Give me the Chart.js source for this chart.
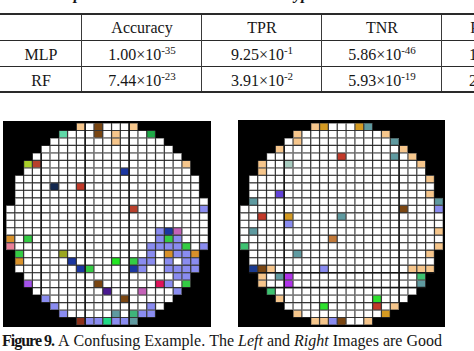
<!DOCTYPE html>
<html><head><meta charset="utf-8">
<script src="https://cdn.jsdelivr.net/npm/chart.js@4/dist/chart.umd.min.js"></script>
<style>
html,body{margin:0;padding:0;background:#fff;width:474px;height:351px;overflow:hidden;position:relative;font-family:"Liberation Serif","Times New Roman",serif;color:#161616}
.t{position:absolute;white-space:nowrap;font-size:16px;line-height:16px}
.c{text-align:center;width:140px}
.hl{position:absolute;left:0;width:474px;background:#2a2a2a}
.vl{position:absolute;width:1.3px;background:#3a3a3a;top:15px;height:76px}
canvas{position:absolute;background:#000}
sup{font-size:11px;line-height:0;vertical-align:0;position:relative;top:-6px}
</style></head><body>
<div id="page"></div>
<canvas id="left" width="208" height="206" style="left:3px;top:121px;width:208px;height:206px"></canvas>
<canvas id="right" width="207" height="207" style="left:238px;top:120px;width:207px;height:207px"></canvas>
<script>
// ---------- table data ----------
const tableTitle = "Table 4. p-Values about t-Test with Null Hypothesis and Alternative Hypothesis";
const metricNames = ["Accuracy", "TPR", "TNR", "Precision"];
const modelNames = ["MLP", "RF"];
const mlpMantissa = [1.00, 9.25, 5.86, 1.52];
const mlpExponent = [-35, -1, -46, -4];
const rfMantissa = [7.44, 3.91, 5.93, 2.07];
const rfExponent = [-23, -2, -19, -3];
const captionParts = [["Figure 9.", "b"], [" A Confusing Example. The ", ""], ["Left", "i"], [" and ", ""], ["Right", "i"], [" Images are Good", ""]];

// ---------- wafer data ----------
const rowStart = [8,6,5,4,3,2,2,1,1,1,1,0,0,0,0,0,0,1,1,1,2,2,3,4,5,6,8];
const rowEnd   = [14,16,17,18,19,20,20,21,21,21,22,22,22,22,22,22,22,21,21,21,20,20,19,18,17,16,14];
const nCols = 23, nRows = 27;
const palette = {
  lo:"#f6c68c", br:"#7a4612", tg:"#5fd9a8", gn:"#1faa48", yg:"#a9cf2a", rb:"#b8402c",
  db:"#1b36a0", nv:"#13284f", rd:"#c23a2a", bp:"#8a8cf0", or:"#d8912a", pk:"#ea8098",
  g2:"#34cc44", ol:"#9ba622", g3:"#22e622", pu:"#a452ea", cr:"#e0125a", dp:"#4a1a90",
  mg:"#c462b8", tl:"#5f9aa0", sg:"#3fb47a", rb2:"#8c3019", mt:"#20da86",
  gd:"#d49a22", lt:"#a8ccc0", pb:"#6242d8", bo:"#c27a3a", gr:"#3ec271", nb:"#1a3a8f",
  vi:"#b032ea", lg:"#2ee02e"
};
const leftCells = [
  [0,8,"lo"],[0,10,"br"],[0,14,"lo"],
  [1,6,"tg"],[1,10,"br"],[1,12,"lo"],[1,16,"gn"],
  [2,12,"lo"],
  [5,2,"yg"],[5,3,"rb"],[5,20,"lo"],
  [6,13,"db"],
  [8,5,"nv"],[8,8,"rd"],
  [11,14,"rb"],[11,22,"bp"],
  [14,17,"bp"],[14,18,"db"],[14,19,"mg"],
  [15,0,"or"],[15,2,"g2"],[15,17,"bp"],[15,18,"g2"],[15,19,"bp"],
  [16,0,"pk"],[16,16,"bp"],[16,17,"bp"],[16,18,"bp"],[16,19,"bp"],[16,20,"g2"],[16,22,"bp"],
  [17,1,"g2"],[17,6,"ol"],[17,16,"bp"],[17,18,"or"],[17,19,"bp"],[17,20,"bp"],[17,21,"or"],
  [18,1,"or"],[18,7,"db"],[18,12,"g3"],[18,14,"g2"],[18,15,"bp"],[18,16,"bp"],[18,18,"bp"],[18,20,"bp"],[18,21,"bp"],
  [19,8,"db"],[19,9,"g2"],[19,14,"db"],[19,15,"bp"],[19,18,"bp"],[19,19,"bp"],[19,20,"bp"],[19,21,"bp"],
  [20,19,"bp"],[20,20,"bp"],
  [21,2,"pu"],[21,10,"br"],[21,17,"cr"],[21,18,"bp"],[21,20,"g2"],
  [22,11,"dp"],[22,15,"mg"],[22,19,"bp"],
  [23,4,"bp"],[23,13,"br"],
  [24,5,"bp"],[24,16,"bp"],
  [25,6,"bp"],[25,12,"tl"],[25,14,"sg"],[25,15,"bp"],[25,16,"bp"],
  [26,8,"rb2"],[26,9,"bp"],[26,10,"bp"],[26,11,"mt"],[26,12,"bp"],[26,13,"bp"],[26,14,"tl"]
];
const rightCells = [
  [0,8,"lo"],[0,9,"gd"],[0,13,"gd"],[0,14,"tl"],
  [1,6,"lo"],[1,16,"lo"],
  [2,6,"lo"],[2,17,"tl"],
  [3,4,"lo"],[3,18,"lo"],
  [4,11,"rd"],[4,17,"tl"],[4,19,"lo"],
  [5,2,"lo"],[5,5,"lt"],[5,20,"lo"],
  [6,2,"lo"],
  [7,21,"lo"],
  [9,4,"pb"],[9,21,"lo"],
  [10,1,"tl"],[10,22,"tl"],
  [11,18,"br"],[11,22,"bp"],
  [12,2,"rd"],[12,5,"gd"],[12,11,"tl"],
  [13,5,"bp"],
  [14,1,"tl"],[14,22,"lo"],
  [15,10,"bo"],
  [16,0,"gr"],[16,22,"lo"],
  [17,6,"tl"],[17,21,"lo"],
  [19,1,"nb"],[19,2,"br"],[19,3,"lo"],[19,9,"bp"],[19,19,"lo"],[19,20,"lo"],[19,21,"lo"],
  [20,2,"lo"],[20,4,"tl"],[20,5,"vi"],[20,20,"gr"],
  [21,2,"lo"],[21,5,"vi"],[21,20,"tl"],
  [22,3,"gr"],
  [23,4,"lo"],[23,15,"lg"],
  [24,9,"lg"],[24,15,"rd"],[24,17,"lo"],
  [25,6,"lo"],[25,16,"gd"],
  [26,8,"lo"],[26,9,"lo"],[26,10,"bp"],[26,11,"br"],[26,14,"lo"]
];
const leftVLines = [4, 9, 14];
const leftHLines = [];
const rightVLines = [5, 18];
const rightHLines = [20, 22];

// ---------- build table (HTML) ----------
const page = document.getElementById("page");
function add(html, cls, style) {
  const d = document.createElement("div");
  d.className = cls; d.innerHTML = html; d.style.cssText = style; page.appendChild(d); return d;
}
add(tableTitle, "t", "left:18px;top:-14px;font-weight:bold;font-style:italic;");
add("", "hl", "top:13px;height:2.2px");
add("", "hl", "top:40.2px;height:1.2px");
add("", "hl", "top:66.2px;height:1.2px");
add("", "hl", "top:90.6px;height:2.2px");
const colLines = [81.2, 201.2, 321.2, 441.2];
colLines.forEach(x => add("", "vl", "left:" + x + "px"));
const colCenters = [41, 142, 262, 382, 500];
const rowTops = [20.2, 46.6, 72.6];
metricNames.forEach((m, i) => add(m, "t c", "left:" + (colCenters[i + 1] - 70) + "px;top:" + rowTops[0] + "px"));
function sci(m, e) { return m.toFixed(2) + "\u00d710<sup>" + e + "</sup>"; }
const rowsVals = [[mlpMantissa, mlpExponent], [rfMantissa, rfExponent]];
modelNames.forEach((n, r) => {
  add(n, "t c", "left:" + (colCenters[0] - 70) + "px;top:" + rowTops[r + 1] + "px");
  rowsVals[r][0].forEach((m, i) => add(sci(m, rowsVals[r][1][i]), "t c", "left:" + (colCenters[i + 1] - 70) + "px;top:" + rowTops[r + 1] + "px"));
});
const cap = captionParts.map(([s, f]) => f === "b" ? "<b style='letter-spacing:-1px'>" + s.replace(/ /g, "&nbsp;") + "</b>" : f === "i" ? "<i>" + s + "</i>" : s.replace(/ /g, "&nbsp;")).join("");
add(cap, "t", "left:2px;top:333.3px;");

// ---------- wafers (Chart.js) ----------
function waferChart(id, cells, vLines, hLines, pad) {
  const lookup = {};
  cells.forEach(([r, c, k]) => { lookup[r + "_" + c] = palette[k]; });
  const pts = [], colors = [];
  for (let r = 0; r < nRows; r++) {
    for (let c = rowStart[r]; c <= rowEnd[r]; c++) {
      pts.push({ x: c + 0.5, y: [r, r + 1] });
      colors.push(lookup[r + "_" + c] || "#ffffff");
    }
  }
  const datasets = [{
    type: "bar", data: pts, backgroundColor: colors, borderColor: "#7c7c7c",
    borderWidth: 0.6, borderSkipped: false, barPercentage: 1, categoryPercentage: 1,
    grouped: false, order: 2, inflateAmount: 0
  }];
  const lineDs = (data) => ({ type: "line", data, borderColor: "#151515", borderWidth: 1.5,
    pointRadius: 0, fill: false, tension: 0, order: 0 });
  vLines.forEach(b => {
    const rows = [];
    for (let r = 0; r < nRows; r++) if (rowStart[r] < b && rowEnd[r] + 1 > b) rows.push(r);
    datasets.push(lineDs([{ x: b, y: rows[0] }, { x: b, y: rows[rows.length - 1] + 1 }]));
  });
  hLines.forEach(h => {
    const s = Math.min(rowStart[h - 1], rowStart[h]);
    const e = Math.max(rowEnd[h - 1], rowEnd[h]) + 1;
    datasets.push(lineDs([{ x: s, y: h }, { x: e, y: h }]));
  });
  new Chart(document.getElementById(id), {
    type: "bar",
    data: { datasets },
    options: {
      responsive: false, animation: false, events: [],
      layout: { padding: pad },
      plugins: { legend: { display: false }, tooltip: { enabled: false } },
      scales: {
        x: { type: "linear", min: 0, max: nCols, display: false, offset: false, ticks: { stepSize: 1 } },
        y: { type: "linear", min: 0, max: nRows, reverse: true, display: false, ticks: { stepSize: 1 } }
      }
    }
  });
}
waferChart("left", leftCells, leftVLines, leftHLines, { left: 3, right: 2.7, top: 2, bottom: 2 });
waferChart("right", rightCells, rightVLines, rightHLines, { left: 2, right: 1.7, top: 3, bottom: 2 });
</script>
</body></html>
